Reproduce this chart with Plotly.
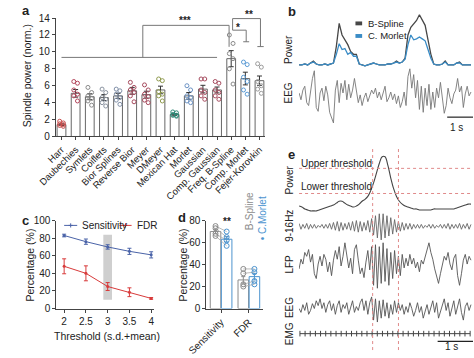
import numpy as np
import plotly.graph_objects as go

W, H = 474, 358
FONT = "Liberation Sans, Arial, sans-serif"

# ---------------- panel a data ----------------
methods = ["Harr", "Daubechies", "Symlets", "Coiflets", "Bior Splines", "Reverse Bior",
           "Meyer", "DMeyer", "Mexican Hat", "Morlet", "Gaussian", "Comp. Gaussian",
           "Freq. B-Spline", "Comp. Morlet", "Fejer-Korovkin"]
power_mean = [1.4, 5.1, 4.7, 4.6, 4.8, 5.4, 4.95, 5.5, 2.6, 4.8, 5.6, 5.5, 9.2, 6.85, 6.6]
power_sem = [0.1, 0.45, 0.35, 0.35, 0.3, 0.4, 0.4, 0.45, 0.1, 0.4, 0.45, 0.35, 0.95, 0.75, 0.55]
power_points = [
    [1.8, 1.6, 1.5, 1.4, 1.3, 1.2],
    [6.5, 6.3, 5.5, 5.0, 4.8, 4.2],
    [5.8, 5.2, 4.8, 4.5, 4.2, 3.7],
    [5.6, 5.2, 4.6, 4.4, 4.0, 3.6],
    [5.6, 5.4, 5.0, 4.6, 4.3, 3.8],
    [6.4, 5.8, 5.5, 5.2, 4.8, 4.1],
    [6.1, 5.5, 5.0, 4.7, 4.3, 4.0],
    [6.8, 6.6, 5.3, 5.0, 4.8, 4.2],
    [2.9, 2.8, 2.6, 2.5, 2.5, 2.4],
    [6.0, 5.5, 4.8, 4.6, 4.2, 4.0],
    [6.8, 6.8, 5.5, 5.2, 4.8, 4.4],
    [6.5, 6.3, 5.5, 5.2, 4.8, 4.4],
    [12.0, 11.0, 9.8, 9.2, 8.0, 6.2],
    [8.8, 8.5, 7.0, 6.5, 5.5, 5.0],
    [8.6, 8.2, 6.5, 6.0, 5.6, 5.1],
]
dot_colors = ["#c9504f", "#b4465c", "#8a8a8a", "#8a93a0", "#8190a8", "#a64b5e", "#a64b5e",
              "#8f9a4e", "#2f8a78", "#6b92c4", "#a64b5e", "#a64b5e", "#8a8a8a", "#5b9bd5", "#9a9a9a"]

# ---------------- panel c data ----------------
thresholds = [2, 2.5, 3, 3.5, 4]
sensitivity = [83, 76, 70, 65, 61]
sensitivity_err = [1.5, 3, 2.5, 3.5, 3.5]
fdr = [48, 40, 25, 18.5, 11.5]
fdr_err = [8.5, 8.5, 4.5, 5, 1]

# ---------------- panel d data ----------------
d_categories = ["Sensitivity", "FDR"]
d_bspline_mean = [70, 26]
d_morlet_mean = [63, 29]
d_bspline_err = [2, 3]
d_morlet_err = [2.5, 3]
d_sens_bspline = [75, 73, 68, 66]
d_sens_morlet = [70, 65, 62, 57]
d_fdr_bspline = [36, 32, 22, 20]
d_fdr_morlet = [36, 33, 25, 22]

# ---------------- panel b data (trace amplitudes) ----------------
b_power_bspline = [1, 1, 2, 1, 3, 5, 2, 1, 1, 2, 1, 2, 3, 20, 44, 32, 27, 22, 15, 12, 12, 2, 1, 0, 1, 2, 3, 2, 1, 1,
                   1, 2, 2, 3, 5, 3, 4, 8, 32, 40, 44, 47, 53, 47, 42, 27, 12, 2, 1, 1, 2, 5, 1, 1, 1, 3, 4, 1, 1, 1, 1]
b_power_morlet = [1, 1, 2, 1, 3, 4, 2, 1, 1, 2, 1, 2, 3, 12, 23, 17, 18, 12, 14, 10, 10, 2, 1, 0, 1, 2, 3, 2, 1, 1,
                  1, 2, 2, 3, 4, 3, 4, 7, 22, 32, 27, 28, 30, 28, 26, 17, 8, 2, 1, 1, 2, 4, 1, 1, 1, 3, 3, 1, 1, 1, 1]
b_eeg = [5, -2, 8, 12, -5, -8, 6, 20, 28, -10, -14, 5, 10, -3, 12, 3, -15, -20, -26, 8, 18, -5, 15, 5, 18, -2,
         14, 0, 8, 20, 5, -5, 3, -8, 0, 5, -4, 2, 8, 4, 10, 0, 6, -2, 5, 12, -4, 0, 6, -2, 4, -6, 2, -10, -4,
         6, -8, 22, 30, 10, 24, 0, 18, -12, 12, -15, 10, -8, 14, -12, 6, -10, 10, 0, 16, 2, -16, -8, 10, 0, -6,
         4, 8, 20, 6, 12, -10, 4, 12, 2, 6]

# ---------------- panel e data ----------------
e_power = [6, 5, 3, 2, 1, 1, 1, 2, 3, 4, 5, 6, 7, 9, 11, 11, 9, 7, 6, 5, 6, 8, 11, 13, 16, 22, 30, 40, 50, 57,
           57, 48, 35, 24, 16, 11, 8, 6, 5, 4, 3, 3, 2, 2, 2, 2, 2, 3, 3, 3, 3, 3, 3, 3, 3, 4, 5, 6, 7, 8, 8]
e_sigma = [3, -3, 2, -2, 3, -3, 2, -2, 2, -2, 1, -1, 2, -2, 2, -2, 3, -3, 4, -4, 5, -5, 4, -4, 3, -3, 4, -4,
           5, -5, 6, -6, 5, -5, 4, -4, 6, -6,
           8, -9, 11, -12, 13, -14, 13, -12, 11, -10, 9, -8, 7, -6, 5, -5, 4,
           -4, 3, -3, 3, -3, 2, -2, 2, -2, 2, -2, 1, -1, 2, -2, 2, -2, 1, -1, 2, -2, 2, -2, 3, -3, 2, -2, 2, -2,
           3, -3, 2, -2, 3, -3, 2]
e_lfp = [-5, 5, 0, 12, 8, 15, 2, 10, -10, -15, 0, 8, -2, 10, 5, -8, 2, -12, 4, 14, 5, 18, -2, 8, 22, 10, -4,
         6, -10, 15, 20, 4, -10, -4, -14, 2, 14, -6, 18, -22, 20, -25, 18, -20, 22, -18, 16, -22, 12, -15, 14,
         -10, 8, -12, 10, -4, 6, -2, 10, 0, 6, -4, 2, -8, 4, 0, 8, 14, 22, 12, 5, -5, -12, -20, -10, -2, 8, 4,
         12, 0, -6, 6, 10, -12, -22, -10, 4, 10, 0, 8, 4]
e_eeg = [0, -4, 4, -2, 6, -6, -2, 5, 0, 8, 3, 10, 0, 6, -4, 4, 8, -2, 5, -6, 3, 8, -4, 4, 0, 6, -6, 2, 8, -4,
         2, -2, 6, 10, -2, 8, -6, 6, 12, -12, 10, -14, 8, -10, 9, -8, 6, -10, 4, -6, 8, -4, 6, -2, 4, -6, 2, -4,
         6, 0, -8, -2, 6, -4, 2, -10, -2, 4, -6, 2, 8, -4, 6, -10, -4, 4, 10, -2, 6, -8, 2, 8, -6, 4, 10, -4,
         -12, 2, 6, -2, 4]
e_emg = [0] * 34

# ---------------- helpers ----------------
def fx(x):
    return x / W

def fy(y):
    return 1 - y / H

def dom_x(x0, x1):
    return [fx(x0), fx(x1)]

def dom_y(ytop, ybot):
    return [fy(ybot), fy(ytop)]

AX = dict(showline=True, linecolor="#444", linewidth=1, ticks="outside", ticklen=3, tickwidth=1,
          tickcolor="#444", showgrid=False, zeroline=False, tickfont=dict(size=10, color="#222", family=FONT))
HID = dict(visible=False, showgrid=False, zeroline=False)

fig = go.Figure()

# ================= panel a =================
fig.add_trace(go.Bar(x=list(range(len(methods))), y=power_mean, width=0.62,
                     marker=dict(color="white", line=dict(color="#666", width=1)),
                     error_y=dict(type="data", array=power_sem, color="#333", thickness=1, width=2.5),
                     xaxis="x", yaxis="y"))
offs = [-0.13, 0.13, -0.13, 0.13, -0.13, 0.13]
for i, pts in enumerate(power_points):
    fig.add_trace(go.Scatter(x=[i + offs[k % 6] for k in range(len(pts))], y=pts, mode="markers",
                             marker=dict(symbol="circle-open", size=4, color=dot_colors[i], line=dict(width=1)),
                             xaxis="x", yaxis="y"))

# ================= panel b =================
tb = np.arange(len(b_power_bspline)) * 0.1
fig.add_trace(go.Scatter(x=tb, y=b_power_bspline, mode="lines", line=dict(color="#474747", width=1.3),
                         xaxis="x2", yaxis="y2"))
fig.add_trace(go.Scatter(x=tb, y=b_power_morlet, mode="lines", line=dict(color="#3a8cc6", width=1.3),
                         xaxis="x2", yaxis="y2"))
tbe = np.arange(len(b_eeg)) / 15.0
fig.add_trace(go.Scatter(x=tbe, y=b_eeg, mode="lines", line=dict(color="#777", width=0.9),
                         xaxis="x3", yaxis="y3"))

# ================= panel c =================
fig.add_trace(go.Scatter(x=thresholds, y=sensitivity, mode="lines+markers",
                         line=dict(color="#4a63a8", width=1), marker=dict(size=3, color="#4a63a8"),
                         error_y=dict(type="data", array=sensitivity_err, color="#4a63a8", thickness=1, width=2),
                         xaxis="x4", yaxis="y4"))
fig.add_trace(go.Scatter(x=thresholds, y=fdr, mode="lines+markers",
                         line=dict(color="#d83b3b", width=1), marker=dict(size=3, color="#d83b3b"),
                         error_y=dict(type="data", array=fdr_err, color="#d83b3b", thickness=1, width=2),
                         xaxis="x4", yaxis="y4"))
# legend samples
fig.add_trace(go.Scatter(x=[2.0, 2.3], y=[94.5, 94.5], mode="lines", line=dict(color="#4a63a8", width=1),
                         xaxis="x4", yaxis="y4"))
fig.add_trace(go.Scatter(x=[2.15], y=[94.5], mode="markers", marker=dict(size=3, color="#4a63a8", symbol="cross-thin",
                         line=dict(color="#4a63a8", width=1)), xaxis="x4", yaxis="y4"))
fig.add_trace(go.Scatter(x=[3.27, 3.55], y=[94.5, 94.5], mode="lines", line=dict(color="#d83b3b", width=1),
                         xaxis="x4", yaxis="y4"))
fig.add_trace(go.Scatter(x=[3.41], y=[94.5], mode="markers", marker=dict(size=3, color="#d83b3b", symbol="cross-thin",
                         line=dict(color="#d83b3b", width=1)), xaxis="x4", yaxis="y4"))

# ================= panel d =================
GR, BL = "#8c8c8c", "#4d94cf"
fig.add_trace(go.Bar(x=[-0.2, 0.8], y=d_bspline_mean, width=0.38,
                     marker=dict(color="white", line=dict(color=GR, width=1)),
                     error_y=dict(type="data", array=d_bspline_err, color=GR, thickness=1, width=2),
                     xaxis="x5", yaxis="y5"))
fig.add_trace(go.Bar(x=[0.2, 1.2], y=d_morlet_mean, width=0.38,
                     marker=dict(color="white", line=dict(color=BL, width=1)),
                     error_y=dict(type="data", array=d_morlet_err, color=BL, thickness=1, width=2),
                     xaxis="x5", yaxis="y5"))
for c0, (bs, mo) in enumerate([(d_sens_bspline, d_sens_morlet), (d_fdr_bspline, d_fdr_morlet)]):
    for a, b in zip(bs, mo):
        fig.add_trace(go.Scatter(x=[c0 - 0.2, c0 + 0.2], y=[a, b], mode="lines",
                                 line=dict(color="#aaaaaa", width=0.8), xaxis="x5", yaxis="y5"))
    fig.add_trace(go.Scatter(x=[c0 - 0.2] * len(bs), y=bs, mode="markers",
                             marker=dict(symbol="circle-open", size=5, color=GR, line=dict(width=1)),
                             xaxis="x5", yaxis="y5"))
    fig.add_trace(go.Scatter(x=[c0 + 0.2] * len(mo), y=mo, mode="markers",
                             marker=dict(symbol="circle-open", size=5, color=BL, line=dict(width=1)),
                             xaxis="x5", yaxis="y5"))

# ================= panel e =================
tp = np.arange(len(e_power)) * 0.1
fig.add_trace(go.Scatter(x=tp, y=e_power, mode="lines", line=dict(color="#444", width=1.1, shape="spline"),
                         xaxis="x6", yaxis="y6"))
te = np.arange(len(e_sigma)) / 15.0
fig.add_trace(go.Scatter(x=te, y=e_sigma, mode="lines", line=dict(color="#666", width=0.9),
                         xaxis="x7", yaxis="y7"))
fig.add_trace(go.Scatter(x=np.arange(len(e_lfp)) / 15.0, y=e_lfp, mode="lines", line=dict(color="#555", width=0.9),
                         xaxis="x8", yaxis="y8"))
fig.add_trace(go.Scatter(x=np.arange(len(e_eeg)) / 15.0, y=e_eeg, mode="lines", line=dict(color="#555", width=0.9),
                         xaxis="x9", yaxis="y9"))
fig.add_trace(go.Scatter(x=np.arange(len(e_emg)) * 0.18 + 0.03, y=e_emg, mode="lines+markers",
                         line=dict(color="#444", width=1),
                         marker=dict(symbol="line-ns-open", size=4, color="#444", line=dict(width=1, color="#444")),
                         xaxis="x10", yaxis="y10"))

# ================= layout =================
layout = dict(
    width=W, height=H, margin=dict(l=0, r=0, t=0, b=0),
    paper_bgcolor="white", plot_bgcolor="rgba(0,0,0,0)",
    showlegend=False, barmode="overlay", hovermode=False,
    font=dict(family=FONT, size=10, color="#222"),
    xaxis=dict(AX, domain=dom_x(37.5, 256.5), range=[-0.4, 14.4], tickmode="array",
               tickvals=list(range(len(methods))), ticktext=methods, tickangle=-45, anchor="y",
               tickfont=dict(size=9.5, color="#222", family=FONT)),
    yaxis=dict(AX, domain=dom_y(12.5, 135), range=[0, 14], tickvals=list(range(0, 15, 2)), anchor="x"),
    xaxis2=dict(HID, domain=dom_x(292, 474), range=[0, 6.07], anchor="y2"),
    yaxis2=dict(HID, domain=dom_y(5, 64), range=[-2, 57], anchor="x2"),
    xaxis3=dict(HID, domain=dom_x(292, 474), range=[0, 6.07], anchor="y3"),
    yaxis3=dict(HID, domain=dom_y(62, 128), range=[-33, 33], anchor="x3"),
    xaxis4=dict(AX, domain=dom_x(38, 140), range=[1.82, 4.06], tickvals=thresholds,
                ticktext=["2", "2.5", "3", "3.5", "4"], anchor="y4"),
    yaxis4=dict(AX, domain=dom_y(222, 313), range=[0, 100], tickvals=[0, 20, 40, 60, 80, 100], anchor="x4"),
    xaxis5=dict(AX, domain=dom_x(195, 254), range=[-0.53, 1.5], tickvals=[0, 1], ticktext=d_categories,
                tickangle=-45, anchor="y5"),
    yaxis5=dict(AX, domain=dom_y(222, 313), range=[0, 80], tickvals=[0, 20, 40, 60, 80], anchor="x5"),
    xaxis6=dict(HID, domain=dom_x(292, 474), range=[0, 6.07], anchor="y6"),
    yaxis6=dict(HID, domain=dom_y(145, 215), range=[-2, 68], anchor="x6"),
    xaxis7=dict(HID, domain=dom_x(292, 474), range=[0, 6.07], anchor="y7"),
    yaxis7=dict(HID, domain=dom_y(210, 246), range=[-18, 18], anchor="x7"),
    xaxis8=dict(HID, domain=dom_x(292, 474), range=[0, 6.07], anchor="y8"),
    yaxis8=dict(HID, domain=dom_y(238, 298), range=[-31, 29], anchor="x8"),
    xaxis9=dict(HID, domain=dom_x(292, 474), range=[0, 6.07], anchor="y9"),
    yaxis9=dict(HID, domain=dom_y(290, 335), range=[-22, 23], anchor="x9"),
    xaxis10=dict(HID, domain=dom_x(292, 474), range=[0, 6.07], anchor="y10"),
    yaxis10=dict(HID, domain=dom_y(332, 346), range=[-7, 7], anchor="x10"),
)

shapes = []
LC = "#777"
def seg(x0, y0, x1, y1):
    shapes.append(dict(type="line", xref="x", yref="y", x0=x0, y0=y0, x1=x1, y1=y1,
                       line=dict(color=LC, width=1)))
# significance brackets in panel a
seg(0, 9.35, 11, 9.35)
seg(5.75, 9.35, 5.75, 13.14)
seg(5.75, 13.14, 11.85, 13.14)
seg(11.85, 13.14, 11.85, 10.6)
seg(12.1, 13.94, 14.07, 13.94)
seg(14.07, 13.94, 14.07, 10.63)
seg(13.85, 10.63, 14.3, 10.63)
seg(12.1, 13.94, 12.1, 12.57)
seg(12.1, 12.57, 13.06, 12.57)
seg(13.06, 12.57, 13.06, 11.2)
seg(12.85, 11.2, 13.27, 11.2)

# panel c grey band
shapes.append(dict(type="rect", xref="x4", yref="y4", x0=2.9, x1=3.1, y0=10, y1=84,
                   fillcolor="#cfcfcf", line=dict(width=0), layer="below"))

# panel b legend swatches
shapes.append(dict(type="rect", xref="paper", yref="paper", x0=fx(351), x1=fx(358), y0=fy(20), y1=fy(16),
                   fillcolor="#474747", line=dict(width=0)))
shapes.append(dict(type="rect", xref="paper", yref="paper", x0=fx(351), x1=fx(358), y0=fy(33), y1=fy(29),
                   fillcolor="#3a8cc6", line=dict(width=0)))
# scale bars
shapes.append(dict(type="line", xref="paper", yref="paper", x0=fx(447), x1=fx(474), y0=fy(115), y1=fy(115),
                   line=dict(color="#222", width=1.2)))
shapes.append(dict(type="line", xref="paper", yref="paper", x0=fx(437), x1=fx(474), y0=fy(347), y1=fy(347),
                   line=dict(color="#222", width=1.2)))
# panel e threshold lines
RD = "#e08a8a"
for yy in (168, 194):
    shapes.append(dict(type="line", xref="paper", yref="paper", x0=fx(292), x1=fx(474), y0=fy(yy), y1=fy(yy),
                       line=dict(color=RD, width=1, dash="dot")))
for xx in (369, 396):
    shapes.append(dict(type="line", xref="paper", yref="paper", x0=fx(xx), x1=fx(xx), y0=fy(148), y1=fy(356),
                       line=dict(color=RD, width=1, dash="dot")))
layout["shapes"] = shapes

ann = []
def txt(x, y, s, size=10, color="#222", angle=0, xa="center", ya="middle", bold=False):
    ann.append(dict(x=fx(x), y=fy(y), xref="paper", yref="paper", text=("<b>%s</b>" % s) if bold else s,
                    showarrow=False, font=dict(size=size, color=color, family=FONT), textangle=angle,
                    xanchor=xa, yanchor=ya))

txt(0, 5, "a", size=13, xa="left", bold=True)
txt(278, 6, "b", size=13, xa="left", bold=True)
txt(0, 222, "c", size=13, xa="left", bold=True)
txt(163, 219, "d", size=13, xa="left", bold=True)
txt(278, 154, "e", size=13, xa="left", bold=True)

txt(7, 72, "Spindle power (norm.)", size=10.5, angle=-90)
txt(173, 15, "***", size=10, bold=True)
txt(228, 22, "*", size=10, bold=True)
txt(240, 9, "**", size=10, bold=True)

txt(281, 45, "Power", angle=-90)
txt(281, 90, "EEG", angle=-90)
txt(362, 18, "B-Spline", size=9.5, xa="left")
txt(362, 31, "C. Morlet", size=9.5, xa="left")
txt(457, 126, "1 s", size=10)

txt(10, 268, "Percentage (%)", size=10.5, angle=-90)
txt(91, 341, "Threshold (s.d.+mean)", size=10.5)
txt(63, 227, "Sensitivity", size=10, xa="left")
txt(120, 227, "FDR", size=10, xa="left")

txt(171, 268, "Percentage (%)", size=10.5, angle=-90)
txt(217, 223, "**", size=10, bold=True)
txt(241, 212, "B-Spline", size=10, color=GR, angle=-90)
txt(254, 220, "\u2022 C.Morlet", size=10, color=BL, angle=-90)

txt(292, 163, "Upper threshold", size=10, xa="left")
txt(292, 187, "Lower threshold", size=10, xa="left")
txt(282, 180, "Power", angle=-90)
txt(282, 228, "9-16Hz", angle=-90)
txt(282, 267, "LFP", angle=-90)
txt(282, 312, "EEG", angle=-90)
txt(282, 339, "EMG", angle=-90)
txt(452, 352, "1 s", size=10)
layout["annotations"] = ann

fig.update_layout(**layout)
fig.write_html("out.html", config={"displayModeBar": False, "staticPlot": True},
               post_script="document.body.style.margin='0';document.body.style.padding='0';")
